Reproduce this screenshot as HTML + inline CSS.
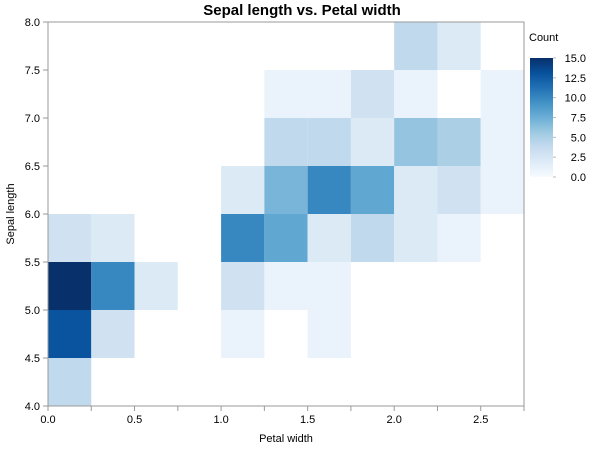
<!DOCTYPE html>
<html><head><meta charset="utf-8"><style>body{margin:0;background:#fff}svg{font-family:"Liberation Sans",sans-serif}</style></head>
<body>
<svg id="c" width="604" height="449">
<defs><linearGradient id="g" x1="0" y1="1" x2="0" y2="0">
<stop offset="0" stop-color="#f7fbff"/><stop offset="0.125" stop-color="#deebf7"/><stop offset="0.25" stop-color="#c6dbef"/><stop offset="0.375" stop-color="#9ecae1"/><stop offset="0.5" stop-color="#6baed6"/><stop offset="0.625" stop-color="#4292c6"/><stop offset="0.75" stop-color="#2171b5"/><stop offset="0.875" stop-color="#08519c"/><stop offset="1" stop-color="#08306b"/></linearGradient></defs>
</svg>
<script>
const petalBins=[0,0.25,0.5,0.75,1,1.25,1.5,1.75,2,2.25,2.5];
const sepalBins=[4,4.5,5,5.5,6,6.5,7,7.5];
// cells: [petalBinStart, sepalBinStart, count]
const cellPetal=[2.0,2.25, 1.25,1.5,1.75,2.0,2.5, 1.25,1.5,1.75,2.0,2.25,2.5, 1.0,1.25,1.5,1.75,2.0,2.25,2.5, 0,0.25,1.0,1.25,1.5,1.75,2.0,2.25, 0,0.25,0.5,1.0,1.25,1.5, 0,0.25,1.0,1.5, 0];
const cellSepal=[7.5,7.5, 7,7,7,7,7, 6.5,6.5,6.5,6.5,6.5,6.5, 6,6,6,6,6,6,6, 5.5,5.5,5.5,5.5,5.5,5.5,5.5,5.5, 5,5,5,5,5,5, 4.5,4.5,4.5,4.5, 4];
const cellCount=[4,2, 1,1,3,1,1, 4,4,2,6,5,1, 2,7,10,8,2,3,1, 3,2,10,8,2,4,2,1, 15,10,2,3,1,1, 13,3,1,1, 4];
const xTicks=["0.0","0.5","1.0","1.5","2.0","2.5"];
const yTicks=["4.0","4.5","5.0","5.5","6.0","6.5","7.0","7.5","8.0"];
const legendTicks=["0.0","2.5","5.0","7.5","10.0","12.5","15.0"];
const X0=48,X1=524,Y0=406,Y1=22;
const x=v=>X0+(v/2.75)*(X1-X0);
const y=v=>Y0-((v-4)/4)*(Y0-Y1);
const stops=["#f7fbff","#deebf7","#c6dbef","#9ecae1","#6baed6","#4292c6","#2171b5","#08519c","#08306b"];
function col(c){let t=Math.min(1,c/15)*8,i=Math.min(7,Math.floor(t)),f=t-i;
const a=stops[i],b=stops[i+1],h=(s,k)=>parseInt(s.substr(1+2*k,2),16);
return "rgb("+[0,1,2].map(k=>Math.round(h(a,k)+(h(b,k)-h(a,k))*f)).join(",")+")";}
const svg=document.getElementById('c');const NS="http://www.w3.org/2000/svg";
function el(t,a,p){const e=document.createElementNS(NS,t);for(const k in a)e.setAttribute(k,a[k]);(p||svg).appendChild(e);return e;}
for(let i=0;i<cellCount.length;i++){
const r=el('rect',{x:x(cellPetal[i]),y:y(cellSepal[i]+0.5),width:x(cellPetal[i]+0.25)-x(cellPetal[i]),height:y(cellSepal[i])-y(cellSepal[i]+0.5),fill:col(cellCount[i])});

}
const fr=el('rect',{x:X0,y:Y1,width:X1-X0,height:Y0-Y1,fill:'none',stroke:'#999'});


xTicks.forEach(t=>{const v=parseFloat(t);el('line',{x1:x(v),x2:x(v),y1:Y0,y2:Y0+5,stroke:'#999'});
const tx=el('text',{x:x(v),y:Y0+17,'font-size':11,'text-anchor':'middle',fill:'#000'});tx.textContent=t;

});
for(let k=0;k<11;k++){const v=k*0.25;if(k%2)el('line',{x1:x(v),x2:x(v),y1:Y0,y2:Y0+5,stroke:'#999'});}
el('line',{x1:X1,x2:X1,y1:Y0,y2:Y0+5,stroke:'#999'});
yTicks.forEach(t=>{const v=parseFloat(t);el('line',{x1:X0-5,x2:X0,y1:y(v),y2:y(v),stroke:'#999'});
const tx=el('text',{x:X0-8,y:y(v)+4,'font-size':11,'text-anchor':'end',fill:'#000'});tx.textContent=t;

});
const tt=el('text',{x:302,y:15,'font-size':15,'font-weight':'bold','text-anchor':'middle'});tt.textContent="Sepal length vs. Petal width";


const xt=el('text',{x:286,y:442,'font-size':11,'text-anchor':'middle'});xt.textContent="Petal width";


const yt=el('text',{x:0,y:0,'font-size':11,'text-anchor':'middle',transform:'translate(14,214) rotate(-90)'});yt.textContent="Sepal length";


const lt=el('text',{x:529,y:41,'font-size':11,'font-weight':'normal'});lt.textContent="Count";


const LG0=177,LG1=58;
const lg=el('rect',{x:530,y:LG1,width:23,height:LG0-LG1,fill:'url(#g)'});


legendTicks.forEach(t=>{const v=parseFloat(t),yy=LG0-(v/15)*(LG0-LG1);
el('line',{x1:553,x2:556,y1:yy,y2:yy,stroke:'#bbb'});
const tx=el('text',{x:586,y:yy+4,'font-size':11,'text-anchor':'end'});tx.textContent=t;

});
</script>
</body></html>
